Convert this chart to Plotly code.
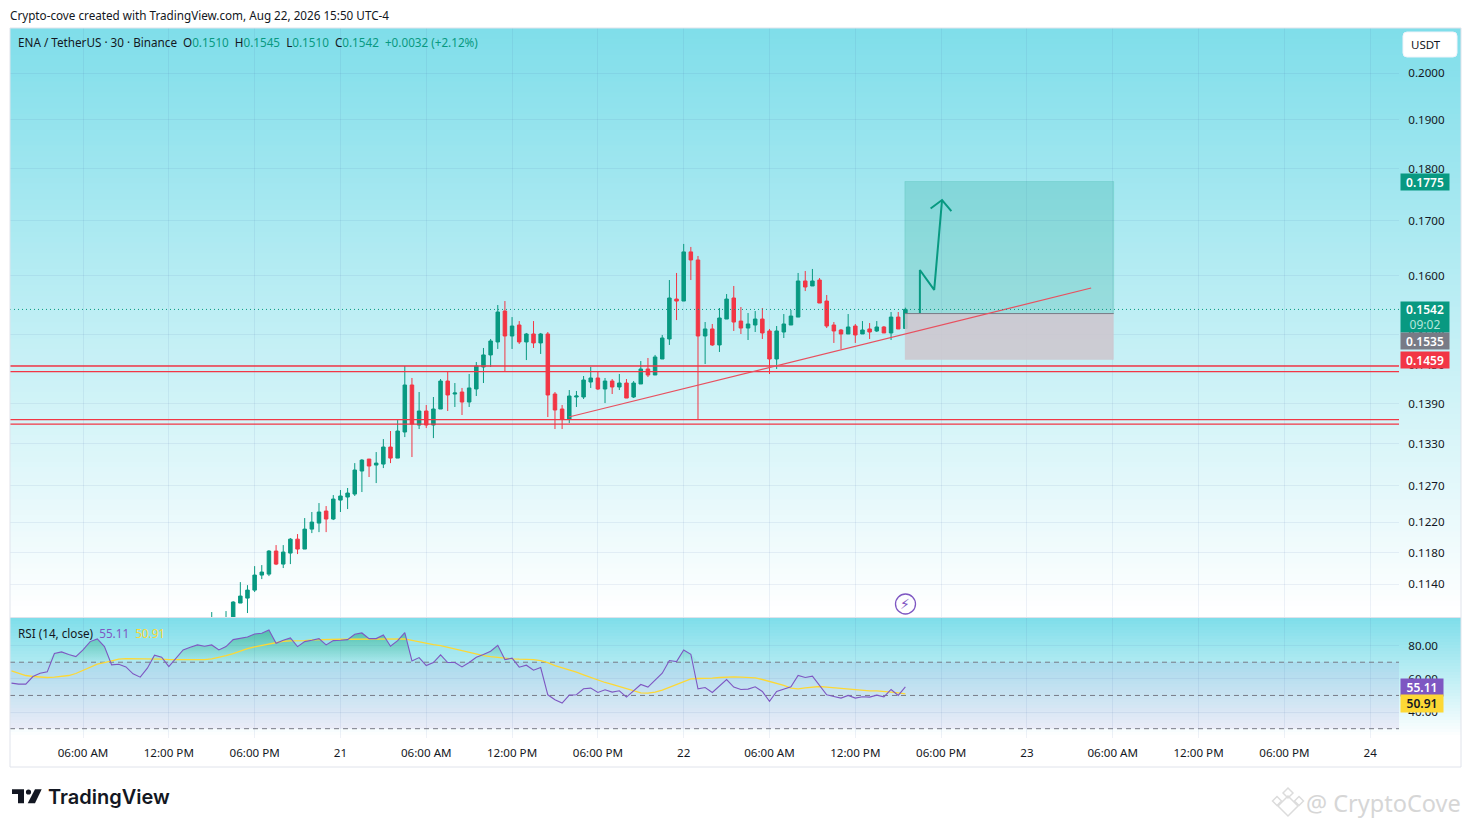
import numpy as np
import plotly.graph_objects as go

W, H = 1471, 827
UP = "#089981"
DOWN = "#f23645"
RSI_C = "#7e57c2"
MA_C = "#fdd835"
TXT = "#131722"
GRID = "rgba(70,100,170,0.09)"
FONT = "Noto Sans"

# bar numbers, 30 minute candles, last one is the live bar
bars = list(range(28, 126))
opens = [0.1085, 0.1085, 0.1090, 0.1097, 0.11164, 0.11225, 0.11324, 0.11513, 0.11525, 0.11821,
         0.11653, 0.11795, 0.11977, 0.11847, 0.12110, 0.12191, 0.12353, 0.12245, 0.12503, 0.12545,
         0.12586, 0.12909, 0.13080, 0.12994, 0.13008, 0.13254, 0.13094, 0.13475, 0.14190, 0.13579,
         0.13790, 0.13579, 0.13820, 0.14252, 0.14050, 0.14081, 0.13927, 0.14128, 0.14474, 0.14667,
         0.14878, 0.15393, 0.14976, 0.15158, 0.14878, 0.15009, 0.14862, 0.15009, 0.14050, 0.13820,
         0.13668, 0.14004, 0.14004, 0.14237, 0.14300, 0.14128, 0.14252, 0.14159, 0.14221, 0.14004,
         0.14206, 0.14442, 0.14347, 0.14602, 0.14927, 0.15597, 0.15563, 0.16427, 0.16282, 0.14976,
         0.15092, 0.14829, 0.15258, 0.15615, 0.15224, 0.15108, 0.15158, 0.15258, 0.15059, 0.14602,
         0.15042, 0.15158, 0.15291, 0.15910, 0.15823, 0.15927, 0.15563, 0.15158, 0.15075, 0.15009,
         0.15141, 0.15009, 0.15092, 0.15059, 0.15125, 0.15026, 0.15291, 0.1510]
highs = [0.11054, 0.1095, 0.11066, 0.11188, 0.11424, 0.11386, 0.11627, 0.11640, 0.11834, 0.11899,
         0.11899, 0.11991, 0.12044, 0.12258, 0.12340, 0.12462, 0.12421, 0.12572, 0.12642, 0.12670,
         0.13022, 0.13080, 0.13080, 0.13181, 0.13371, 0.13490, 0.13653, 0.14490, 0.14300, 0.14081,
         0.13881, 0.14004, 0.14284, 0.14410, 0.14221, 0.14144, 0.14363, 0.14553, 0.14780, 0.14927,
         0.15495, 0.15563, 0.15291, 0.15224, 0.15026, 0.15224, 0.15026, 0.15042, 0.14081, 0.13881,
         0.14112, 0.14097, 0.14331, 0.14474, 0.14395, 0.14300, 0.14284, 0.14363, 0.14284, 0.14252,
         0.14569, 0.14618, 0.14667, 0.14993, 0.15927, 0.16051, 0.16572, 0.16517, 0.16354, 0.15208,
         0.15175, 0.15444, 0.15683, 0.15823, 0.15461, 0.15359, 0.15393, 0.15444, 0.15092, 0.15141,
         0.15342, 0.15410, 0.16051, 0.16086, 0.16122, 0.15962, 0.15667, 0.15208, 0.15092, 0.15342,
         0.15175, 0.15224, 0.15191, 0.15224, 0.15141, 0.15376, 0.15376, 0.1545]
lows = [0.1080, 0.1075, 0.1085, 0.1094, 0.11164, 0.11042, 0.11300, 0.11462, 0.11500, 0.11640,
        0.11602, 0.11653, 0.11782, 0.11847, 0.12057, 0.12070, 0.12070, 0.12231, 0.12340, 0.12380,
        0.12559, 0.12614, 0.12824, 0.12739, 0.12951, 0.13022, 0.13094, 0.13400, 0.13109, 0.13519,
        0.13534, 0.13385, 0.13820, 0.13790, 0.13851, 0.13729, 0.13851, 0.14019, 0.14221, 0.14474,
        0.14764, 0.14410, 0.14764, 0.14845, 0.14585, 0.14780, 0.14683, 0.13699, 0.13519, 0.13519,
        0.13608, 0.13851, 0.13973, 0.14144, 0.14112, 0.13911, 0.14050, 0.14112, 0.13988, 0.13988,
        0.14206, 0.14315, 0.14347, 0.14602, 0.14829, 0.15241, 0.15563, 0.15927, 0.13668, 0.14521,
        0.14813, 0.14715, 0.15258, 0.15059, 0.15009, 0.14910, 0.15042, 0.14927, 0.14363, 0.14442,
        0.14943, 0.15158, 0.15291, 0.15735, 0.15823, 0.15529, 0.15108, 0.14862, 0.14764, 0.15009,
        0.14862, 0.15009, 0.14927, 0.15042, 0.15026, 0.14910, 0.15092, 0.1510]
closes = [0.1092, 0.1090, 0.1097, 0.11176, 0.11250, 0.11324, 0.11513, 0.11551, 0.11821, 0.11653,
          0.11808, 0.11977, 0.11847, 0.12110, 0.12204, 0.12340, 0.12245, 0.12517, 0.12559, 0.12600,
          0.12923, 0.13065, 0.12980, 0.13022, 0.13254, 0.13094, 0.13490, 0.14190, 0.13593, 0.13790,
          0.13579, 0.13820, 0.14252, 0.14035, 0.14066, 0.13927, 0.14144, 0.14490, 0.14667, 0.14894,
          0.15376, 0.14976, 0.15141, 0.14878, 0.15009, 0.14862, 0.15009, 0.14035, 0.13805, 0.13668,
          0.14019, 0.14019, 0.14268, 0.14300, 0.14128, 0.14252, 0.14159, 0.14221, 0.13988, 0.14221,
          0.14442, 0.14347, 0.14634, 0.14943, 0.15615, 0.15563, 0.16427, 0.16282, 0.14976, 0.15092,
          0.14829, 0.15275, 0.15597, 0.15208, 0.15108, 0.15175, 0.15258, 0.15026, 0.14602, 0.15059,
          0.15175, 0.15308, 0.15910, 0.15805, 0.15910, 0.15529, 0.15141, 0.15059, 0.15009, 0.15125,
          0.14993, 0.15075, 0.15042, 0.15125, 0.15026, 0.15291, 0.15092, 0.1542]

rsi = [57.4, 56.8, 56.8, 61.4, 63.4, 64.2, 75.2, 76.2, 74.6, 73.4,
       77.4, 82.4, 84.0, 79.4, 68.4, 68.8, 67.2, 63.0, 61.0, 66.4,
       74.2, 73.0, 67.4, 72.4, 77.4, 79.0, 80.4, 79.6, 80.4, 77.4,
       79.4, 83.6, 84.4, 85.2, 87.0, 87.4, 89.4, 81.4, 83.2, 84.6,
       79.4, 82.4, 83.2, 84.2, 80.4, 83.0, 83.2, 83.6, 86.8, 87.6,
       84.2, 84.2, 86.4, 79.6, 83.0, 87.8, 70.8, 72.8, 68.0, 69.8,
       74.4, 69.8, 69.8, 67.2, 69.8, 73.0, 74.6, 76.6, 80.2, 71.6,
       72.4, 67.0, 68.2, 65.2, 66.8, 50.4, 47.4, 45.4, 50.2, 50.4,
       54.0, 54.4, 51.8, 53.4, 52.0, 52.8, 49.0, 52.8, 56.6, 55.0,
       59.0, 63.4, 71.0, 70.4, 77.4, 74.8, 54.0, 54.8, 51.8, 56.0,
       59.6, 55.0, 53.6, 53.8, 55.2, 52.4, 46.4, 52.4, 54.0, 55.2,
       62.0, 60.8, 61.6, 56.0, 50.4, 49.4, 48.4, 50.0, 48.4, 49.2,
       49.0, 50.2, 49.2, 53.6, 50.0, 55.11]
rsi_ma = [64.8, 63.2, 62.0, 61.4, 61.0, 60.8, 61.0, 61.4, 62.0, 63.2,
          65.0, 67.2, 68.8, 69.8, 70.8, 71.8, 72.2, 72.2, 72.2, 72.2,
          72.2, 71.8, 71.6, 71.6, 71.6, 71.4, 71.4, 71.6, 72.0, 72.8,
          74.0, 75.2, 76.8, 78.2, 79.2, 80.0, 81.2, 81.8, 82.6, 82.8,
          82.8, 83.0, 83.4, 83.6, 83.6, 83.8, 83.8, 83.8, 83.8, 83.8,
          83.8, 83.8, 83.8, 83.8, 84.0, 84.0, 83.2, 82.2, 81.4, 80.6,
          80.0, 79.0, 77.6, 76.8, 75.8, 74.8, 74.0, 73.4, 72.8, 72.2,
          72.0, 71.8, 71.8, 71.6, 71.0, 69.8, 68.0, 66.8, 65.4, 64.0,
          62.4, 60.8, 59.4, 57.8, 56.6, 55.4, 54.0, 52.6, 51.6, 51.4,
          52.0, 53.2, 55.0, 56.8, 58.6, 60.0, 60.2, 60.2, 60.4, 60.8,
          61.2, 61.2, 61.0, 61.0, 60.6, 59.6, 58.4, 57.4, 56.0, 54.4,
          54.0, 54.6, 55.2, 55.4, 55.0, 54.6, 54.2, 53.8, 53.4, 53.0,
          52.8, 52.8, 52.6, 52.0, 51.6, 50.91]
rsi_bars = list(range(len(rsi)))

price_ticks = [0.2, 0.19, 0.18, 0.17, 0.16, 0.15, 0.145, 0.139, 0.133, 0.127, 0.122, 0.118, 0.114]
rsi_ticks = [80, 60, 40]
time_ticks = [10, 22, 34, 46, 58, 70, 82, 94, 106, 118, 130, 142, 154, 166, 178, 190]
time_labels = ["06:00 AM", "12:00 PM", "06:00 PM", "21", "06:00 AM", "12:00 PM", "06:00 PM", "22",
               "06:00 AM", "12:00 PM", "06:00 PM", "23", "06:00 AM", "12:00 PM", "06:00 PM", "24"]

# drawings
zone_levels = [0.1449, 0.1440, 0.1366, 0.13593]
last_close = 0.1542
entry_price = 0.1535
target_price = 0.1775
stop_price = 0.1459
pos_start, pos_end = 124.93, 154.13
trend_x = [77.93, 150.98]
trend_y = [0.13699, 0.15788]
path_x = [127.03, 127.03, 129.03, 130.13]
path_y = [0.15359, 0.16104, 0.15754, 0.17392]
head_x = [128.53, 130.13, 131.43]
head_y = [0.17230, 0.17392, 0.17180]
x_range = [-0.21, 194.03]


def px(x):
    return x / W


def py(y):
    return 1 - y / H


def mix(t):
    # cyan at the top of a pane, white at the bottom
    a, b = (128, 222, 234), (255, 255, 255)
    c = [round(a[i] + (b[i] - a[i]) * t) for i in range(3)]
    return f"rgb({c[0]},{c[1]},{c[2]})"


shapes = []
for top, bottom, n in [(28, 617, 110), (618, 738, 40)]:
    for i in range(n):
        y0 = top + i * (bottom - top) / n
        shapes.append(dict(type="rect", xref="paper", yref="paper", layer="below",
                           x0=px(10), x1=px(1461), y0=py(y0), y1=py(bottom),
                           fillcolor=mix(i / (n - 1)), line_width=0))
# RSI band
shapes.append(dict(type="rect", xref="x2", yref="y2", layer="below", x0=x_range[0], x1=x_range[1],
                   y0=30, y1=70, fillcolor="rgba(126,87,194,0.1)", line_width=0))
# frame
shapes.append(dict(type="rect", xref="paper", yref="paper", x0=px(10), x1=px(1461), y0=py(28), y1=py(767),
                   line=dict(color="#e0e3eb", width=1)))
shapes.append(dict(type="line", xref="paper", yref="paper", x0=px(10), x1=px(1461), y0=py(617.5), y1=py(617.5),
                   line=dict(color="#e0e3eb", width=1)))


def poly(points, **kw):
    d = "M " + " L ".join(f"{px(x):.5f},{py(y):.5f}" for x, y in points) + " Z"
    shapes.append(dict(type="path", xref="paper", yref="paper", path=d, **kw))


# TradingView logo
poly([(12, 789.3), (24, 789.3), (24, 803.3), (18, 803.3), (18, 794), (12, 794)], fillcolor="#131722", line_width=0)
poly([(35, 789.3), (41.7, 789.3), (35, 803.3), (27.7, 803.3)], fillcolor="#131722", line_width=0)
shapes.append(dict(type="circle", xref="paper", yref="paper", x0=px(25.9), x1=px(31.1), y0=py(794.6), y1=py(789.4),
                   fillcolor="#131722", line_width=0))
# watermark logo
for cx, cy, r in [(1288, 793, 5), (1277, 801, 4.5), (1299, 801, 4.5), (1288, 806, 10)]:
    poly([(cx, cy - r), (cx + r, cy), (cx, cy + r), (cx - r, cy)], line=dict(color="#dcdcdc", width=1.5))

# USDT button, rounded corners
bx0, bx1, by0, by1, rad = 1403, 1457, 32, 57, 4
btn = (f"M {px(bx0 + rad)},{py(by0)} L {px(bx1 - rad)},{py(by0)} Q {px(bx1)},{py(by0)} {px(bx1)},{py(by0 + rad)} "
       f"L {px(bx1)},{py(by1 - rad)} Q {px(bx1)},{py(by1)} {px(bx1 - rad)},{py(by1)} "
       f"L {px(bx0 + rad)},{py(by1)} Q {px(bx0)},{py(by1)} {px(bx0)},{py(by1 - rad)} "
       f"L {px(bx0)},{py(by0 + rad)} Q {px(bx0)},{py(by0)} {px(bx0 + rad)},{py(by0)} Z")
shapes.append(dict(type="path", xref="paper", yref="paper", path=btn, fillcolor="white",
                   line=dict(color="#f0f3fa", width=1)))

fig = go.Figure()
fig.add_trace(go.Candlestick(x=bars, open=opens, high=highs, low=lows, close=closes, whiskerwidth=0,
                             increasing=dict(line=dict(color=UP, width=1), fillcolor=UP),
                             decreasing=dict(line=dict(color=DOWN, width=1), fillcolor=DOWN),
                             hoverinfo="skip", xaxis="x", yaxis="y"))

# long position box
fig.add_trace(go.Scatter(x=[pos_start, pos_end, pos_end, pos_start, pos_start],
                         y=[target_price, target_price, entry_price, entry_price, target_price],
                         mode="lines", fill="toself", fillcolor="rgba(8,153,129,0.2)",
                         line=dict(color="rgba(8,153,129,0.15)", width=1), hoverinfo="skip"))
fig.add_trace(go.Scatter(x=[pos_start, pos_end, pos_end, pos_start, pos_start],
                         y=[entry_price, entry_price, stop_price, stop_price, entry_price],
                         mode="lines", fill="toself", fillcolor="rgba(205,198,206,0.88)",
                         line=dict(width=0), hoverinfo="skip"))
fig.add_trace(go.Scatter(x=[pos_start, pos_end], y=[entry_price, entry_price], mode="lines",
                         line=dict(color="#787b86", width=1), hoverinfo="skip"))

for level in zone_levels:
    fig.add_trace(go.Scatter(x=x_range, y=[level, level], mode="lines",
                             line=dict(color=DOWN, width=1.3), hoverinfo="skip"))
fig.add_trace(go.Scatter(x=trend_x, y=trend_y, mode="lines",
                         line=dict(color="#e8505f", width=1.2), hoverinfo="skip"))
fig.add_trace(go.Scatter(x=x_range, y=[last_close, last_close], mode="lines",
                         line=dict(color=UP, width=1, dash="1px,3px"), hoverinfo="skip"))
fig.add_trace(go.Scatter(x=path_x, y=path_y, mode="lines",
                         line=dict(color=UP, width=2), hoverinfo="skip"))
fig.add_trace(go.Scatter(x=head_x, y=head_y, mode="lines",
                         line=dict(color=UP, width=2), hoverinfo="skip"))

# RSI pane
fig.add_trace(go.Scatter(x=rsi_bars, y=[70] * len(rsi), mode="lines", line=dict(width=0),
                         xaxis="x2", yaxis="y2", hoverinfo="skip"))
fig.add_trace(go.Scatter(x=rsi_bars, y=np.maximum(rsi, 70), mode="lines", line=dict(width=0),
                         fill="tonexty",
                         fillgradient=dict(type="vertical",
                                           colorscale=[[0, "rgba(8,153,90,0.03)"], [1, "rgba(8,153,90,0.45)"]]),
                         xaxis="x2", yaxis="y2", hoverinfo="skip"))
for level in [70, 50, 30]:
    fig.add_trace(go.Scatter(x=x_range, y=[level, level], mode="lines", xaxis="x2", yaxis="y2",
                             line=dict(color="#787b86", width=1, dash="5px,4px"), hoverinfo="skip"))
fig.add_trace(go.Scatter(x=rsi_bars, y=rsi_ma, mode="lines", line=dict(color=MA_C, width=1.3),
                         xaxis="x2", yaxis="y2", hoverinfo="skip"))
fig.add_trace(go.Scatter(x=rsi_bars, y=rsi, mode="lines", line=dict(color=RSI_C, width=1.1),
                         xaxis="x2", yaxis="y2", hoverinfo="skip"))


def note(text, x, y, size=11.7, color=TXT, anchor="left", **kw):
    # annotation box has 2px padding on the left
    x = x - 2 if anchor == "left" else x
    return dict(text=text, x=px(x), y=py(y), xref="paper", yref="paper", xanchor=anchor, yanchor="middle",
                showarrow=False, font=dict(family=kw.pop("family", FONT), size=size, color=color,
                                           weight=kw.pop("weight", "normal")), **kw)


def tag(text, y0, y1, bg, color="white", x0=1401, x1=1449):
    return note(text, (x0 + x1) / 2, (y0 + y1) / 2, size=12, color=color, anchor="center",
                bgcolor=bg, width=x1 - x0, height=y1 - y0, borderpad=0, align="center", weight=600)


def g(s):
    return f'<span style="color:{UP}">{s}</span>'


annotations = [
    note("Crypto-cove created with TradingView.com, Aug 22, 2026 15:50 UTC-4", 10, 15),
    note("ENA / TetherUS · 30 · Binance  O" + g("0.1510") + "  H" + g("0.1545") + "  L" + g("0.1510")
         + "  C" + g("0.1542") + "  " + g("+0.0032 (+2.12%)"), 18, 42),
    note(f'RSI (14, close)  <span style="color:{RSI_C}">55.11</span>  <span style="color:{MA_C}">50.91</span>', 18, 633),
    note("USDT", 1426, 44.5, size=11.5, anchor="center"),
    tag("0.1775", 174, 190, UP),
    tag('0.1542<br><span style="color:#b5e6dc;font-weight:400">09:02</span>', 302, 332, UP),
    tag("0.1535", 333, 349, "#787b86"),
    tag("0.1459", 352, 368, DOWN),
    tag("55.11", 679, 695.5, RSI_C, x1=1443),
    tag("50.91", 695.5, 712, MA_C, color=TXT, x1=1443),
    note("⚡", 905, 604, size=14, color=RSI_C, anchor="center", family="DejaVu Sans"),
    note("TradingView", 48, 796.5, size=20, color="#131722", family="Inter", weight=600),
    note("@ CryptoCove", 1306, 803, size=23.5, color="#d6d6d6"),
]

shapes.append(dict(type="circle", xref="paper", yref="paper", x0=px(895.5), x1=px(915.5), y0=py(614), y1=py(594),
                   line=dict(color=RSI_C, width=1.3)))

axis_font = dict(family=FONT, size=11.6, color=TXT)
fig.update_layout(
    width=W, height=H, autosize=False, margin=dict(l=0, r=0, t=0, b=0),
    paper_bgcolor="white", plot_bgcolor="rgba(0,0,0,0)", showlegend=False,
    hovermode=False, boxgap=0.3, shapes=shapes, annotations=annotations,
    xaxis=dict(domain=[px(10), px(1399)], range=x_range, anchor="y", showticklabels=False, ticks="",
               tickvals=time_ticks, showgrid=True, gridcolor=GRID, gridwidth=1, zeroline=False,
               rangeslider=dict(visible=False), showline=False),
    yaxis=dict(domain=[py(617), py(28)], type="log", range=[np.log10(0.10994), np.log10(0.21015)],
               anchor="x", side="right", tickvals=price_ticks, ticktext=[f"{v:.4f}" for v in price_ticks],
               showgrid=True, gridcolor=GRID, gridwidth=1, zeroline=False, ticks="outside", ticklen=6,
               tickcolor="rgba(0,0,0,0)", tickfont=axis_font, showline=False),
    xaxis2=dict(domain=[px(10), px(1399)], range=x_range, anchor="y2", tickvals=time_ticks, ticktext=time_labels,
                showgrid=True, gridcolor=GRID, gridwidth=1, zeroline=False, ticks="outside", ticklen=4,
                tickcolor="rgba(0,0,0,0)", tickfont=axis_font, showline=False),
    yaxis2=dict(domain=[py(738), py(618)], range=[24.4, 96.6], anchor="x2", side="right", tickvals=rsi_ticks,
                ticktext=[f"{v:.2f}" for v in rsi_ticks], showgrid=True, gridcolor=GRID, gridwidth=1,
                zeroline=False, ticks="outside", ticklen=6, tickcolor="rgba(0,0,0,0)", tickfont=axis_font,
                showline=False),
)

fig.write_html("out.html", config=dict(displayModeBar=False),
               post_script="document.body.style.margin='0';document.body.style.overflow='hidden';")
